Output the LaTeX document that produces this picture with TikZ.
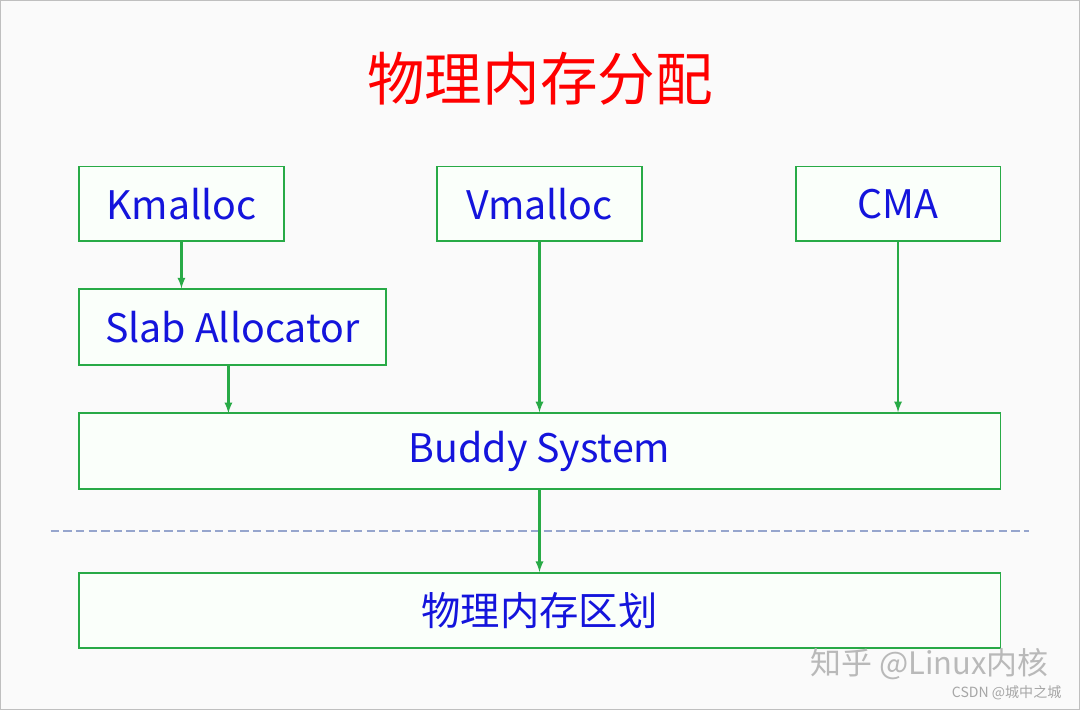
\documentclass[tikz,border=0pt]{standalone}
\usepackage{fontspec}
\setmainfont{Noto Sans CJK SC}
\usetikzlibrary{arrows,positioning}
\definecolor{boxgreen}{RGB}{40,170,70}
\definecolor{boxfill}{RGB}{250,255,250}
\definecolor{textblue}{RGB}{20,20,220}
\definecolor{dashblue}{RGB}{150,165,205}
\tikzset{
  blk/.style={draw=boxgreen,line width=1.3pt,fill=boxfill,text=textblue,
    font=\fontsize{28}{32}\selectfont,inner sep=0pt},
  arr/.style={draw=boxgreen,line width=1.6pt,-latex}
}
\begin{document}
\begin{tikzpicture}[x=0.025cm,y=-0.025cm]
    \draw[draw=gray!50,line width=1pt,fill=gray!4] (0,0) rectangle (1080,710);
    \node[text=red,font=\fontsize{41}{46}\selectfont] (title) at (540,78) {物理内存分配};

    \node[blk,minimum width=206*0.025cm,minimum height=75*0.025cm] (kmalloc) at (181,203.5) {Kmalloc};
    \node[blk,minimum width=205*0.025cm,minimum height=75*0.025cm] (vmalloc) at (539.5,203.5) {Vmalloc};
    \node[blk,minimum width=205*0.025cm,minimum height=75*0.025cm] (cma) at (898.5,203.5) {CMA};
    \node[blk,minimum width=308*0.025cm,minimum height=76*0.025cm] (slab) at (232,327) {Slab Allocator};
    \node[blk,minimum width=923*0.025cm,minimum height=76*0.025cm] (buddy) at (539.5,451) {Buddy System};
    \node[blk,minimum width=923*0.025cm,minimum height=75*0.025cm] (phys) at (539.5,610.5) {物理内存区划};

    \coordinate (dashL) at (50,531);
    \coordinate (dashR) at (1030,531);
    \draw[dashblue,line width=1pt,dash pattern=on 6pt off 3pt] (dashL) -- (dashR);

    \draw[arr] (kmalloc.south) -- (kmalloc.south |- slab.north);
    \draw[arr] (slab.south -| 228,0) -- (228,413);
    \draw[arr] (vmalloc.south) -- (vmalloc.south |- buddy.north);
    \draw[arr] (cma.south) -- (cma.south |- buddy.north);
    \draw[arr] (buddy.south) -- (phys.north);

    \node[text=gray!55,font=\fontsize{22}{24}\selectfont,anchor=east] (zhihu) at (1054,664) {知乎 @Linux内核};
    \node[text=gray!70,font=\fontsize{10}{12}\selectfont,anchor=east] (csdn) at (1067,693) {CSDN @城中之城};
\end{tikzpicture}
\end{document}
